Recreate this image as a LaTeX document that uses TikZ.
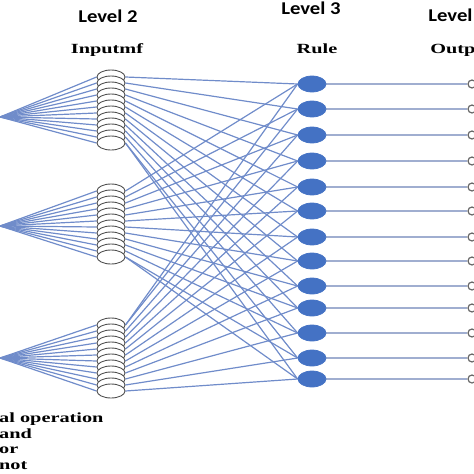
\documentclass[tikz,border=0pt]{standalone}
\usepackage{fontspec}
\usetikzlibrary{shapes.geometric,backgrounds}

\newfontfamily\levelfont[FakeStretch=1.15]{Carlito}
\newfontfamily\labelfont[FakeStretch=1.45]{Liberation Serif}

\definecolor{linkblue}{RGB}{112,140,202}
\definecolor{rulefill}{RGB}{68,114,196}
\definecolor{outline}{RGB}{160,174,208}
\definecolor{mfgray}{RGB}{80,80,80}
\definecolor{outgray}{RGB}{105,105,105}

\tikzset{every picture/.style={line width=0.75pt}}
\tikzset{
	mfnode/.style={ellipse,draw=mfgray,fill=white,line width=0.9pt,minimum width=28pt,minimum height=14pt,inner sep=0pt},
	rulenode/.style={ellipse,draw=rulefill,fill=rulefill,minimum width=28pt,minimum height=16pt,inner sep=0pt},
	outnode/.style={circle,draw=outgray,fill=white,line width=1.2pt,minimum size=8pt,inner sep=0pt},
	linkline/.style={draw=linkblue,line width=1.2pt},
	outlinkline/.style={draw=outline,line width=1.4pt},
	headtext/.style={font=\levelfont\bfseries\fontsize{18}{20}\selectfont,inner sep=0pt},
	subtext/.style={font=\labelfont\bfseries\fontsize{14}{16}\selectfont,inner sep=0pt},
}

\begin{document}
\begin{tikzpicture}[x=1pt,y=-1pt]
			\useasboundingbox (0,0) rectangle (474,474);
			\clip (0,0) rectangle (474,474);

			% level titles
			\node [headtext,anchor=base](l2) at (108,22) {Level 2};
			\node [headtext,anchor=base](l3) at (311,14) {Level 3};
			\node [headtext,anchor=base west](l4) at (428,21) {Level};
			\node [subtext,anchor=base](inmf) at (107,53) {Inputmf};
			\node [subtext,anchor=base](rl) at (317,53) {Rule};
			\node [subtext,anchor=base west](outp) at (430,53) {Outp};

			% inputs
			\coordinate (in1) at (0,117);
			\coordinate (in2) at (0,226);
			\coordinate (in3) at (0,358);

			% level 2: stacked membership functions
			\foreach \k/\y in {1/77,2/191,3/325}
				\foreach \i in {1,...,12}
					\node [mfnode](m\k-\i) at (111,{\y+6*(\i-1)}) {};

			% level 3 rules and outputs
			\foreach \j/\y in {1/84,2/109,3/135,4/161,5/187,6/211,7/237,8/261,9/286,10/308,11/333,12/358,13/379} {
				\node [rulenode](r\j) at (312,\y) {};
				\node [outnode](o\j) at (472,\y) {};
			}

			\begin{pgfonlayer}{background}
				\foreach \k in {1,2,3}
					\foreach \i in {1,...,12}
						\draw [linkline] (in\k) -- (m\k-\i.west);
				\foreach \i in {1,...,12} {
					\pgfmathtruncatemacro\j{\i+1}
					\draw [linkline] (m1-\i.east) -- (r\i.west);
					\draw [linkline] (m2-\i.east) -- (r\i.west);
					\draw [linkline] (m3-\i.east) -- (r\j.west);
				}
				\draw [linkline] (m1-12.east) -- (r13.west);
				\draw [linkline] (m2-12.east) -- (r13.west);
				\draw [linkline] (m3-1.east) -- (r1.west);
				\foreach \j in {1,...,13}
					\draw [outlinkline] (r\j.east) -- (o\j.west);
			\end{pgfonlayer}

			% logical operations
			\node [subtext,anchor=base west](lop) at (-1,422) {al operation};
			\node [subtext,anchor=base west](land) at (-1,438) {and};
			\node [subtext,anchor=base west](lor) at (-1,453) {or};
			\node [subtext,anchor=base west](lnot) at (-1,469) {not};
		\end{tikzpicture}
\end{document}
